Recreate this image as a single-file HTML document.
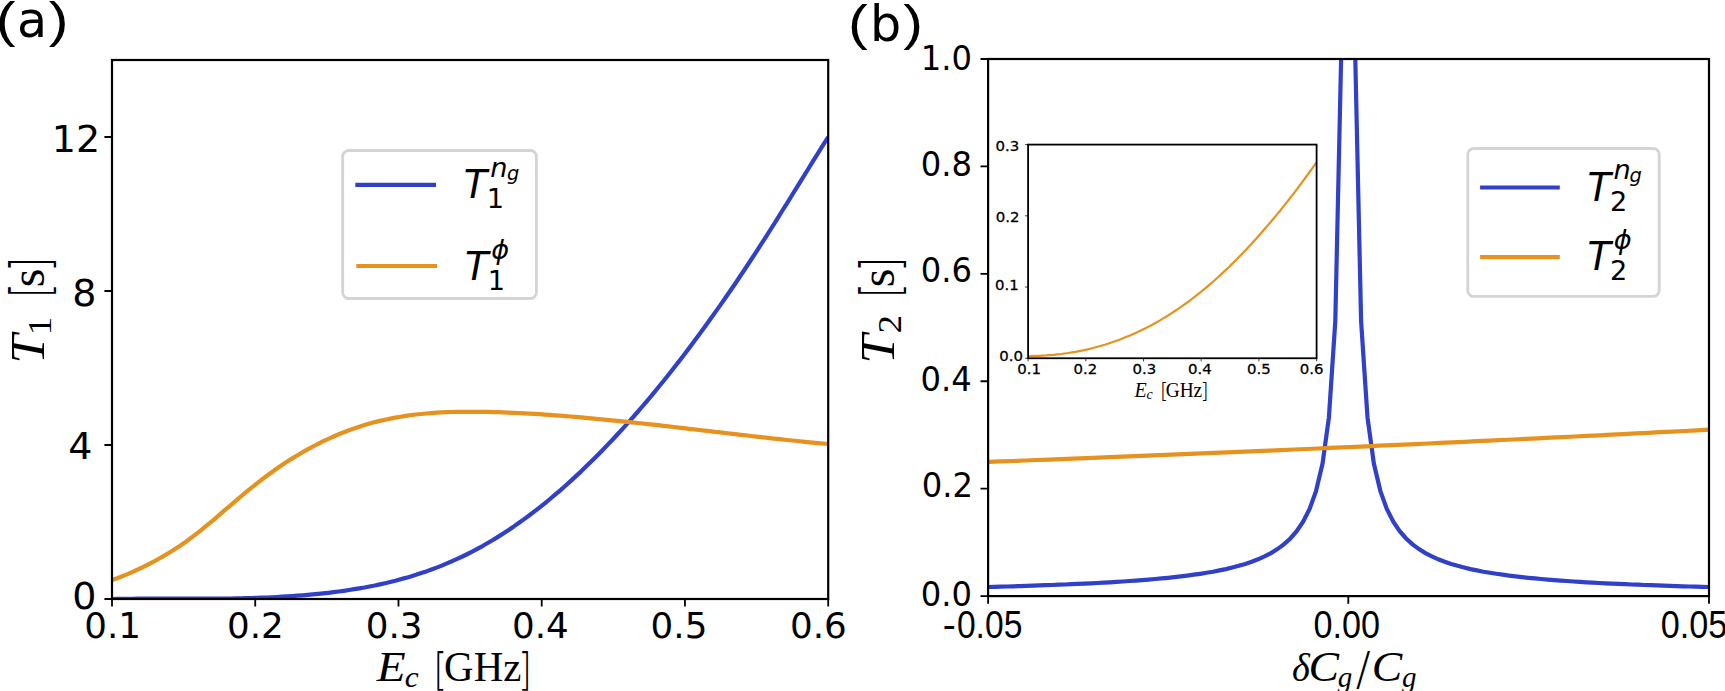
<!DOCTYPE html>
<html lang="en"><head><meta charset="utf-8"><title>T1 and T2 coherence times</title>
<style>html,body{margin:0;padding:0;background:#fff;overflow:hidden}svg{display:block}text{fill:#000}</style>
</head><body>
<svg width="1725" height="691" viewBox="0 0 1725 691">
<rect width="1725" height="691" fill="#fff"/>
<clipPath id="cl"><rect x="112.0" y="60.0" width="716.2" height="539.0"/></clipPath>
<g clip-path="url(#cl)" fill="none" stroke-width="4.2" stroke-linejoin="round">
<path d="M112.0,599.0 L117.2,598.9 L122.3,598.9 L127.5,598.8 L132.6,598.8 L137.8,598.7 L142.9,598.7 L148.1,598.7 L153.2,598.7 L158.4,598.7 L163.5,598.7 L168.7,598.7 L173.8,598.7 L179.0,598.7 L184.1,598.7 L189.3,598.7 L194.4,598.7 L199.6,598.7 L204.7,598.7 L209.9,598.7 L215.1,598.6 L220.2,598.6 L225.4,598.5 L230.5,598.5 L235.7,598.4 L240.8,598.3 L246.0,598.2 L251.1,598.0 L256.3,597.9 L261.4,597.7 L266.6,597.5 L271.7,597.3 L276.9,597.0 L282.0,596.7 L287.2,596.4 L292.3,596.1 L297.5,595.7 L302.6,595.3 L307.8,594.9 L312.9,594.4 L318.1,593.9 L323.3,593.4 L328.4,592.8 L333.6,592.2 L338.7,591.5 L343.9,590.8 L349.0,590.0 L354.2,589.2 L359.3,588.4 L364.5,587.5 L369.6,586.5 L374.8,585.5 L379.9,584.4 L385.1,583.2 L390.2,582.0 L395.4,580.7 L400.5,579.3 L405.7,577.9 L410.8,576.4 L416.0,574.8 L421.2,573.1 L426.3,571.4 L431.5,569.5 L436.6,567.6 L441.8,565.6 L446.9,563.4 L452.1,561.2 L457.2,558.9 L462.4,556.5 L467.5,554.0 L472.7,551.4 L477.8,548.6 L483.0,545.8 L488.1,542.8 L493.3,539.8 L498.4,536.6 L503.6,533.3 L508.7,529.9 L513.9,526.4 L519.0,522.8 L524.2,519.1 L529.4,515.3 L534.5,511.4 L539.7,507.4 L544.8,503.3 L550.0,499.0 L555.1,494.7 L560.3,490.3 L565.4,485.8 L570.6,481.1 L575.7,476.4 L580.9,471.6 L586.0,466.6 L591.2,461.6 L596.3,456.5 L601.5,451.3 L606.6,445.9 L611.8,440.5 L616.9,435.0 L622.1,429.4 L627.3,423.7 L632.4,417.9 L637.6,412.0 L642.7,406.0 L647.9,400.0 L653.0,393.8 L658.2,387.5 L663.3,381.2 L668.5,374.8 L673.6,368.2 L678.8,361.6 L683.9,354.9 L689.1,348.1 L694.2,341.3 L699.4,334.3 L704.5,327.3 L709.7,320.1 L714.8,312.9 L720.0,305.6 L725.1,298.2 L730.3,290.7 L735.5,283.2 L740.6,275.5 L745.8,267.8 L750.9,260.0 L756.1,252.1 L761.2,244.1 L766.4,236.1 L771.5,228.0 L776.7,219.8 L781.8,211.5 L787.0,203.3 L792.1,195.0 L797.3,186.6 L802.4,178.3 L807.6,170.0 L812.7,161.7 L817.9,153.4 L823.0,145.2 L828.2,137.0" stroke="#3040c8"/>
<path d="M112.0,580.1 L117.2,578.2 L122.3,576.2 L127.5,574.1 L132.6,571.8 L137.8,569.5 L142.9,567.1 L148.1,564.5 L153.2,561.9 L158.4,559.0 L163.5,556.1 L168.7,553.0 L173.8,549.8 L179.0,546.4 L184.1,542.9 L189.3,539.2 L194.4,535.3 L199.6,531.3 L204.7,527.1 L209.9,522.9 L215.1,518.6 L220.2,514.2 L225.4,509.7 L230.5,505.3 L235.7,500.9 L240.8,496.5 L246.0,492.2 L251.1,488.0 L256.3,483.9 L261.4,479.9 L266.6,476.0 L271.7,472.2 L276.9,468.6 L282.0,465.0 L287.2,461.6 L292.3,458.4 L297.5,455.2 L302.6,452.2 L307.8,449.3 L312.9,446.5 L318.1,443.8 L323.3,441.2 L328.4,438.8 L333.6,436.5 L338.7,434.3 L343.9,432.2 L349.0,430.3 L354.2,428.4 L359.3,426.7 L364.5,425.1 L369.6,423.6 L374.8,422.1 L379.9,420.9 L385.1,419.7 L390.2,418.6 L395.4,417.6 L400.5,416.7 L405.7,415.9 L410.8,415.2 L416.0,414.5 L421.2,414.0 L426.3,413.5 L431.5,413.1 L436.6,412.7 L441.8,412.4 L446.9,412.2 L452.1,412.0 L457.2,411.9 L462.4,411.8 L467.5,411.8 L472.7,411.8 L477.8,411.8 L483.0,411.8 L488.1,411.9 L493.3,412.1 L498.4,412.2 L503.6,412.4 L508.7,412.6 L513.9,412.8 L519.0,413.0 L524.2,413.3 L529.4,413.6 L534.5,413.9 L539.7,414.2 L544.8,414.6 L550.0,414.9 L555.1,415.3 L560.3,415.7 L565.4,416.1 L570.6,416.5 L575.7,416.9 L580.9,417.4 L586.0,417.8 L591.2,418.3 L596.3,418.8 L601.5,419.3 L606.6,419.8 L611.8,420.3 L616.9,420.8 L622.1,421.3 L627.3,421.9 L632.4,422.4 L637.6,423.0 L642.7,423.5 L647.9,424.1 L653.0,424.7 L658.2,425.2 L663.3,425.8 L668.5,426.4 L673.6,427.0 L678.8,427.6 L683.9,428.2 L689.1,428.8 L694.2,429.4 L699.4,430.0 L704.5,430.6 L709.7,431.2 L714.8,431.8 L720.0,432.4 L725.1,433.0 L730.3,433.6 L735.5,434.2 L740.6,434.8 L745.8,435.4 L750.9,436.0 L756.1,436.6 L761.2,437.2 L766.4,437.7 L771.5,438.3 L776.7,438.9 L781.8,439.4 L787.0,440.0 L792.1,440.5 L797.3,441.0 L802.4,441.6 L807.6,442.1 L812.7,442.6 L817.9,443.1 L823.0,443.5 L828.2,444.0" stroke="#e6921e"/>
</g>
<path d="M112.00,599.0v7.6 M255.24,599.0v7.6 M398.48,599.0v7.6 M541.72,599.0v7.6 M684.96,599.0v7.6 M828.20,599.0v7.6 M112.0,599.00h-7.6 M112.0,445.00h-7.6 M112.0,291.00h-7.6 M112.0,137.00h-7.6" stroke="#000" stroke-width="1.8" fill="none"/>
<rect x="112.0" y="60.0" width="716.2" height="539.0" fill="none" stroke="#000" stroke-width="2.2"/>
<text x="84.23" y="638.40" font-family='"DejaVu Sans", "Liberation Sans", sans-serif' font-size="35.7">0.1</text>
<text x="227.02" y="638.40" font-family='"DejaVu Sans", "Liberation Sans", sans-serif' font-size="35.7">0.2</text>
<text x="365.77" y="638.40" font-family='"DejaVu Sans", "Liberation Sans", sans-serif' font-size="35.7">0.3</text>
<text x="511.94" y="638.40" font-family='"DejaVu Sans", "Liberation Sans", sans-serif' font-size="35.7">0.4</text>
<text x="650.60" y="638.40" font-family='"DejaVu Sans", "Liberation Sans", sans-serif' font-size="35.7">0.5</text>
<text x="790.06" y="638.40" font-family='"DejaVu Sans", "Liberation Sans", sans-serif' font-size="35.7">0.6</text>
<text x="51.75" y="151.70" font-family='"DejaVu Sans", "Liberation Sans", sans-serif' font-size="38">12</text>
<text x="72.32" y="305.60" font-family='"DejaVu Sans", "Liberation Sans", sans-serif' font-size="38">8</text>
<text x="68.36" y="459.30" font-family='"DejaVu Sans", "Liberation Sans", sans-serif' font-size="38">4</text>
<text x="72.25" y="609.20" font-family='"DejaVu Sans", "Liberation Sans", sans-serif' font-size="38">0</text>
<rect x="342.7" y="150.5" width="193.7" height="148.0" rx="6" ry="6" fill="#fff" stroke="#d4d4d4" stroke-width="2.8"/>
<path d="M355.3,184.8H436" stroke="#3040c8" stroke-width="4.2"/>
<path d="M356.3,266H437" stroke="#e6921e" stroke-width="4.2"/>
<text x="463.86" y="198.30" font-family='"DejaVu Sans", "Liberation Sans", sans-serif' font-size="38.2" font-style="italic">T</text>
<text x="486.72" y="207.90" font-family='"DejaVu Sans", "Liberation Sans", sans-serif' font-size="27.159999999999997">1</text>
<text x="490.25" y="176.70" font-family='"DejaVu Sans", "Liberation Sans", sans-serif' font-size="27.159999999999997" font-style="italic">n</text>
<text x="507.07" y="179.70" font-family='"DejaVu Sans", "Liberation Sans", sans-serif' font-size="19.4" font-style="italic">g</text>
<text x="464.96" y="280.30" font-family='"DejaVu Sans", "Liberation Sans", sans-serif' font-size="38.2" font-style="italic">T</text>
<text x="487.82" y="289.90" font-family='"DejaVu Sans", "Liberation Sans", sans-serif' font-size="27.159999999999997">1</text>
<text x="491.27" y="259.00" font-family='"DejaVu Sans", "Liberation Sans", sans-serif' font-size="27.159999999999997" font-style="italic">ϕ</text>
<g transform="translate(0,0) rotate(-90)">
<text transform="translate(-363.74,43.70) scale(1.1000,1)" font-family='"Liberation Serif", serif' font-size="47.8" font-style="italic">T</text>
<text transform="translate(-335.25,50.60) scale(1.1200,1)" font-family='"Liberation Serif", serif' font-size="33">1</text>
<text transform="translate(-298.35,48.60) scale(0.7400,1)" font-family='"DejaVu Sans", "Liberation Sans", sans-serif' font-size="53.1" font-weight="200">[</text>
<text x="-287.17" y="44.20" font-family='"Liberation Serif", serif' font-size="48">s</text>
<text transform="translate(-272.09,48.60) scale(0.7400,1)" font-family='"DejaVu Sans", "Liberation Sans", sans-serif' font-size="53.1" font-weight="200">]</text>
</g>
<text transform="translate(376.75,681.20) scale(1.1400,1)" font-family='"Liberation Serif", serif' font-size="41.5" font-style="italic">E</text>
<text transform="translate(404.74,687.30) scale(1.0800,1)" font-family='"Liberation Serif", serif' font-size="29" font-style="italic">c</text>
<text transform="translate(433.49,685.20) scale(0.7700,1)" font-family='"DejaVu Sans", "Liberation Sans", sans-serif' font-size="44.8" font-weight="200">[</text>
<text transform="translate(444.12,681.20) scale(0.9850,1)" font-family='"Liberation Serif", serif' font-size="41.5">GHz</text>
<text transform="translate(518.25,685.20) scale(0.7700,1)" font-family='"DejaVu Sans", "Liberation Sans", sans-serif' font-size="44.8" font-weight="200">]</text>
<clipPath id="cr"><rect x="988.1" y="59.0" width="720.9" height="537.1"/></clipPath>
<g clip-path="url(#cr)" fill="none" stroke-width="4.2" stroke-linejoin="round">
<path d="M987.8,587.0 L994.2,586.8 L1000.6,586.6 L1007.1,586.5 L1013.5,586.3 L1019.9,586.1 L1026.4,585.9 L1032.8,585.7 L1039.2,585.4 L1045.7,585.2 L1052.1,585.0 L1058.6,584.7 L1065.0,584.5 L1071.4,584.2 L1077.9,583.9 L1084.3,583.6 L1090.7,583.3 L1097.2,583.0 L1103.6,582.6 L1110.0,582.3 L1116.5,581.9 L1122.9,581.5 L1129.4,581.0 L1135.8,580.6 L1142.2,580.1 L1148.7,579.6 L1155.1,579.0 L1161.5,578.4 L1168.0,577.8 L1174.4,577.1 L1180.8,576.4 L1187.3,575.6 L1193.7,574.7 L1200.2,573.8 L1206.6,572.8 L1213.0,571.7 L1219.5,570.4 L1225.9,569.1 L1232.3,567.5 L1238.8,565.8 L1245.2,563.9 L1251.7,561.8 L1258.1,559.3 L1264.5,556.4 L1271.0,553.1 L1277.4,549.1 L1283.8,544.4 L1290.3,538.5 L1296.7,531.2 L1303.1,521.7 L1309.6,509.0 L1316.0,491.1 L1322.5,463.8 L1328.9,417.5 L1335.3,321.1 L1342.3,5.3 L1354.1,5.3 L1361.1,321.1 L1367.5,417.5 L1373.9,463.8 L1380.4,491.1 L1386.8,509.0 L1393.3,521.7 L1399.7,531.2 L1406.1,538.5 L1412.6,544.4 L1419.0,549.1 L1425.4,553.1 L1431.9,556.4 L1438.3,559.3 L1444.7,561.8 L1451.2,563.9 L1457.6,565.8 L1464.1,567.5 L1470.5,569.1 L1476.9,570.4 L1483.4,571.7 L1489.8,572.8 L1496.2,573.8 L1502.7,574.7 L1509.1,575.6 L1515.6,576.4 L1522.0,577.1 L1528.4,577.8 L1534.9,578.4 L1541.3,579.0 L1547.7,579.6 L1554.2,580.1 L1560.6,580.6 L1567.0,581.0 L1573.5,581.5 L1579.9,581.9 L1586.4,582.3 L1592.8,582.6 L1599.2,583.0 L1605.7,583.3 L1612.1,583.6 L1618.5,583.9 L1625.0,584.2 L1631.4,584.5 L1637.8,584.7 L1644.3,585.0 L1650.7,585.2 L1657.2,585.4 L1663.6,585.7 L1670.0,585.9 L1676.5,586.1 L1682.9,586.3 L1689.3,586.5 L1695.8,586.6 L1702.2,586.8 L1708.7,587.0" stroke="#3040c8" stroke-linejoin="miter" stroke-miterlimit="2"/>
<path d="M988.1,461.9 L1000.3,461.4 L1012.5,461.0 L1024.8,460.5 L1037.0,460.0 L1049.2,459.6 L1061.4,459.1 L1073.6,458.6 L1085.8,458.1 L1098.1,457.7 L1110.3,457.2 L1122.5,456.7 L1134.7,456.2 L1146.9,455.7 L1159.2,455.2 L1171.4,454.7 L1183.6,454.2 L1195.8,453.7 L1208.0,453.2 L1220.3,452.7 L1232.5,452.1 L1244.7,451.6 L1256.9,451.1 L1269.1,450.6 L1281.3,450.1 L1293.6,449.5 L1305.8,449.0 L1318.0,448.5 L1330.2,447.9 L1342.4,447.4 L1354.7,446.8 L1366.9,446.3 L1379.1,445.7 L1391.3,445.2 L1403.5,444.6 L1415.8,444.1 L1428.0,443.5 L1440.2,442.9 L1452.4,442.4 L1464.6,441.8 L1476.8,441.2 L1489.1,440.6 L1501.3,440.0 L1513.5,439.5 L1525.7,438.9 L1537.9,438.3 L1550.2,437.7 L1562.4,437.1 L1574.6,436.5 L1586.8,435.9 L1599.0,435.3 L1611.3,434.7 L1623.5,434.1 L1635.7,433.4 L1647.9,432.8 L1660.1,432.2 L1672.3,431.6 L1684.6,431.0 L1696.8,430.3 L1709.0,429.7" stroke="#e6921e"/>
</g>
<path d="M988.10,596.1v7.6 M1348.30,596.1v7.6 M1709.00,596.1v7.6 M988.1,596.10h-7.6 M988.1,488.68h-7.6 M988.1,381.26h-7.6 M988.1,273.84h-7.6 M988.1,166.42h-7.6 M988.1,59.00h-7.6" stroke="#000" stroke-width="1.8" fill="none"/>
<rect x="988.1" y="59.0" width="720.9" height="537.1" fill="none" stroke="#000" stroke-width="2.2"/>
<text transform="translate(920.79,69.90) scale(0.9620,1)" font-family='"DejaVu Sans", "Liberation Sans", sans-serif' font-size="33.5">1.0</text>
<text transform="translate(920.85,176.20) scale(0.9620,1)" font-family='"DejaVu Sans", "Liberation Sans", sans-serif' font-size="33.5">0.8</text>
<text transform="translate(920.68,282.20) scale(0.9620,1)" font-family='"DejaVu Sans", "Liberation Sans", sans-serif' font-size="33.5">0.6</text>
<text transform="translate(920.46,391.20) scale(0.9620,1)" font-family='"DejaVu Sans", "Liberation Sans", sans-serif' font-size="33.5">0.4</text>
<text transform="translate(921.87,497.10) scale(0.9620,1)" font-family='"DejaVu Sans", "Liberation Sans", sans-serif' font-size="33.5">0.2</text>
<text transform="translate(920.79,605.70) scale(0.9620,1)" font-family='"DejaVu Sans", "Liberation Sans", sans-serif' font-size="33.5">0.0</text>
<text x="942.76" y="637.70" font-family='"Liberation Sans", sans-serif' font-size="39.2">-</text>
<text transform="translate(956.89,637.70) scale(0.8580,1)" font-family='"Liberation Sans", sans-serif' font-size="39.2">0.05</text>
<text transform="translate(1313.46,637.70) scale(0.8720,1)" font-family='"Liberation Sans", sans-serif' font-size="39.2">0.00</text>
<text transform="translate(1660.66,637.70) scale(0.8720,1)" font-family='"Liberation Sans", sans-serif' font-size="39.2">0.05</text>
<rect x="1467.8" y="148.5" width="191.4" height="147.9" rx="6" ry="6" fill="#fff" stroke="#d4d4d4" stroke-width="2.8"/>
<path d="M1480.1,187.5H1559.8" stroke="#3040c8" stroke-width="4.2"/>
<path d="M1480.1,257.1H1559.8" stroke="#e6921e" stroke-width="4.2"/>
<text x="1587.56" y="200.80" font-family='"DejaVu Sans", "Liberation Sans", sans-serif' font-size="38.2" font-style="italic">T</text>
<text x="1610.01" y="210.80" font-family='"DejaVu Sans", "Liberation Sans", sans-serif' font-size="27.159999999999997">2</text>
<text x="1613.55" y="178.90" font-family='"DejaVu Sans", "Liberation Sans", sans-serif' font-size="27.159999999999997" font-style="italic">n</text>
<text x="1629.57" y="182.00" font-family='"DejaVu Sans", "Liberation Sans", sans-serif' font-size="19.4" font-style="italic">g</text>
<text x="1587.56" y="270.40" font-family='"DejaVu Sans", "Liberation Sans", sans-serif' font-size="38.2" font-style="italic">T</text>
<text x="1610.01" y="280.40" font-family='"DejaVu Sans", "Liberation Sans", sans-serif' font-size="27.159999999999997">2</text>
<text x="1613.77" y="248.60" font-family='"DejaVu Sans", "Liberation Sans", sans-serif' font-size="27.159999999999997" font-style="italic">ϕ</text>
<g transform="translate(850,0) rotate(-90)">
<text transform="translate(-363.74,43.70) scale(1.1000,1)" font-family='"Liberation Serif", serif' font-size="47.8" font-style="italic">T</text>
<text transform="translate(-333.62,50.60) scale(1.1200,1)" font-family='"Liberation Serif", serif' font-size="33">2</text>
<text transform="translate(-298.35,48.60) scale(0.7400,1)" font-family='"DejaVu Sans", "Liberation Sans", sans-serif' font-size="53.1" font-weight="200">[</text>
<text x="-287.17" y="44.20" font-family='"Liberation Serif", serif' font-size="48">s</text>
<text transform="translate(-272.09,48.60) scale(0.7400,1)" font-family='"DejaVu Sans", "Liberation Sans", sans-serif' font-size="53.1" font-weight="200">]</text>
</g>
<text transform="translate(1291.88,680.50) scale(0.9700,1)" font-family='"Liberation Serif", serif' font-size="39.5" font-style="italic">δ</text>
<text transform="translate(1308.46,680.90) scale(1.1000,1)" font-family='"Liberation Serif", serif' font-size="41.5" font-style="italic">C</text>
<text x="1337.79" y="686.90" font-family='"Liberation Serif", serif' font-size="29" font-style="italic">g</text>
<text transform="translate(1355.81,685.10) scale(0.9700,1)" font-family='"DejaVu Sans", "Liberation Sans", sans-serif' font-size="45.7" font-weight="200">/</text>
<text transform="translate(1371.76,680.90) scale(1.1000,1)" font-family='"Liberation Serif", serif' font-size="41.5" font-style="italic">C</text>
<text x="1401.99" y="686.90" font-family='"Liberation Serif", serif' font-size="29" font-style="italic">g</text>
<rect x="1028.1" y="144.6" width="288.5" height="213.65" fill="#fff" stroke="none"/>
<clipPath id="ci"><rect x="1028.1" y="144.6" width="288.5" height="213.65"/></clipPath>
<path d="M1028.1,356.0 L1031.8,356.0 L1035.4,355.9 L1039.1,355.8 L1042.7,355.6 L1046.4,355.4 L1050.0,355.1 L1053.7,354.8 L1057.3,354.4 L1061.0,354.0 L1064.6,353.5 L1068.3,353.0 L1071.9,352.4 L1075.6,351.8 L1079.2,351.1 L1082.9,350.4 L1086.5,349.6 L1090.2,348.7 L1093.8,347.8 L1097.5,346.8 L1101.1,345.8 L1104.8,344.7 L1108.4,343.5 L1112.1,342.3 L1115.7,341.0 L1119.4,339.7 L1123.0,338.3 L1126.7,336.8 L1130.4,335.3 L1134.0,333.7 L1137.7,332.0 L1141.3,330.3 L1145.0,328.5 L1148.6,326.6 L1152.3,324.7 L1155.9,322.7 L1159.6,320.6 L1163.2,318.4 L1166.9,316.2 L1170.5,313.9 L1174.2,311.5 L1177.8,309.1 L1181.5,306.6 L1185.1,304.0 L1188.8,301.3 L1192.4,298.5 L1196.1,295.7 L1199.7,292.8 L1203.4,289.8 L1207.0,286.8 L1210.7,283.7 L1214.3,280.5 L1218.0,277.2 L1221.7,273.9 L1225.3,270.4 L1229.0,267.0 L1232.6,263.4 L1236.3,259.8 L1239.9,256.1 L1243.6,252.3 L1247.2,248.4 L1250.9,244.5 L1254.5,240.5 L1258.2,236.5 L1261.8,232.3 L1265.5,228.1 L1269.1,223.9 L1272.8,219.5 L1276.4,215.1 L1280.1,210.7 L1283.7,206.1 L1287.4,201.5 L1291.0,196.8 L1294.7,192.1 L1298.3,187.3 L1302.0,182.4 L1305.6,177.5 L1309.3,172.5 L1312.9,167.4 L1316.6,162.3" clip-path="url(#ci)" fill="none" stroke="#e6921e" stroke-width="2.2"/>
<path d="M1028.10,358.25v3.1 M1085.80,358.25v3.1 M1143.50,358.25v3.1 M1201.20,358.25v3.1 M1258.90,358.25v3.1 M1316.60,358.25v3.1 M1028.1,358.25h-3.1 M1028.1,287.03h-3.1 M1028.1,215.82h-3.1 M1028.1,144.60h-3.1" stroke="#444" stroke-width="1" fill="none"/>
<rect x="1028.1" y="144.6" width="288.5" height="213.65" fill="none" stroke="#000" stroke-width="1.8"/>
<text transform="translate(1017.22,374.40) scale(1.0300,1)" font-family='"DejaVu Sans", "Liberation Sans", sans-serif' font-size="14.5" stroke="#000" stroke-width="0.28">0.1</text>
<text transform="translate(1073.48,374.40) scale(1.0300,1)" font-family='"DejaVu Sans", "Liberation Sans", sans-serif' font-size="14.5" stroke="#000" stroke-width="0.28">0.2</text>
<text transform="translate(1132.43,374.40) scale(1.0300,1)" font-family='"DejaVu Sans", "Liberation Sans", sans-serif' font-size="14.5" stroke="#000" stroke-width="0.28">0.3</text>
<text transform="translate(1188.05,374.40) scale(1.0300,1)" font-family='"DejaVu Sans", "Liberation Sans", sans-serif' font-size="14.5" stroke="#000" stroke-width="0.28">0.4</text>
<text transform="translate(1246.98,374.40) scale(1.0300,1)" font-family='"DejaVu Sans", "Liberation Sans", sans-serif' font-size="14.5" stroke="#000" stroke-width="0.28">0.5</text>
<text transform="translate(1299.70,374.40) scale(1.0300,1)" font-family='"DejaVu Sans", "Liberation Sans", sans-serif' font-size="14.5" stroke="#000" stroke-width="0.28">0.6</text>
<text transform="translate(995.54,150.80) scale(1.0300,1)" font-family='"DejaVu Sans", "Liberation Sans", sans-serif' font-size="14.5" stroke="#000" stroke-width="0.28">0.3</text>
<text transform="translate(995.84,221.60) scale(1.0300,1)" font-family='"DejaVu Sans", "Liberation Sans", sans-serif' font-size="14.5" stroke="#000" stroke-width="0.28">0.2</text>
<text transform="translate(995.03,289.80) scale(1.0300,1)" font-family='"DejaVu Sans", "Liberation Sans", sans-serif' font-size="14.5" stroke="#000" stroke-width="0.28">0.1</text>
<text transform="translate(999.24,361.40) scale(1.0300,1)" font-family='"DejaVu Sans", "Liberation Sans", sans-serif' font-size="14.5" stroke="#000" stroke-width="0.28">0.0</text>
<text x="1134.53" y="396.50" font-family='"Liberation Serif", serif' font-size="20" font-style="italic">E</text>
<text x="1146.57" y="399.10" font-family='"Liberation Serif", serif' font-size="14" font-style="italic">c</text>
<text x="1160.12" y="398.10" font-family='"DejaVu Sans", "Liberation Sans", sans-serif' font-size="21" font-weight="200">[</text>
<text transform="translate(1165.71,396.50) scale(0.9650,1)" font-family='"Liberation Serif", serif' font-size="20">GHz</text>
<text x="1200.42" y="398.10" font-family='"DejaVu Sans", "Liberation Sans", sans-serif' font-size="21" font-weight="200">]</text>
<text transform="translate(-4.18,36.50) scale(1.1800,1)" font-family='"Liberation Sans", sans-serif' font-size="50.3">(</text>
<text x="16.95" y="37.30" font-family='"DejaVu Sans", "Liberation Sans", sans-serif' font-size="49.2">a</text>
<text transform="translate(48.82,36.50) scale(1.1800,1)" font-family='"Liberation Sans", sans-serif' font-size="50.3">)</text>
<text transform="translate(847.92,40.20) scale(1.1800,1)" font-family='"Liberation Sans", sans-serif' font-size="50.3">(</text>
<text x="870.03" y="41.00" font-family='"DejaVu Sans", "Liberation Sans", sans-serif' font-size="49.2">b</text>
<text transform="translate(903.22,40.20) scale(1.1800,1)" font-family='"Liberation Sans", sans-serif' font-size="50.3">)</text>
</svg>
</body></html>
